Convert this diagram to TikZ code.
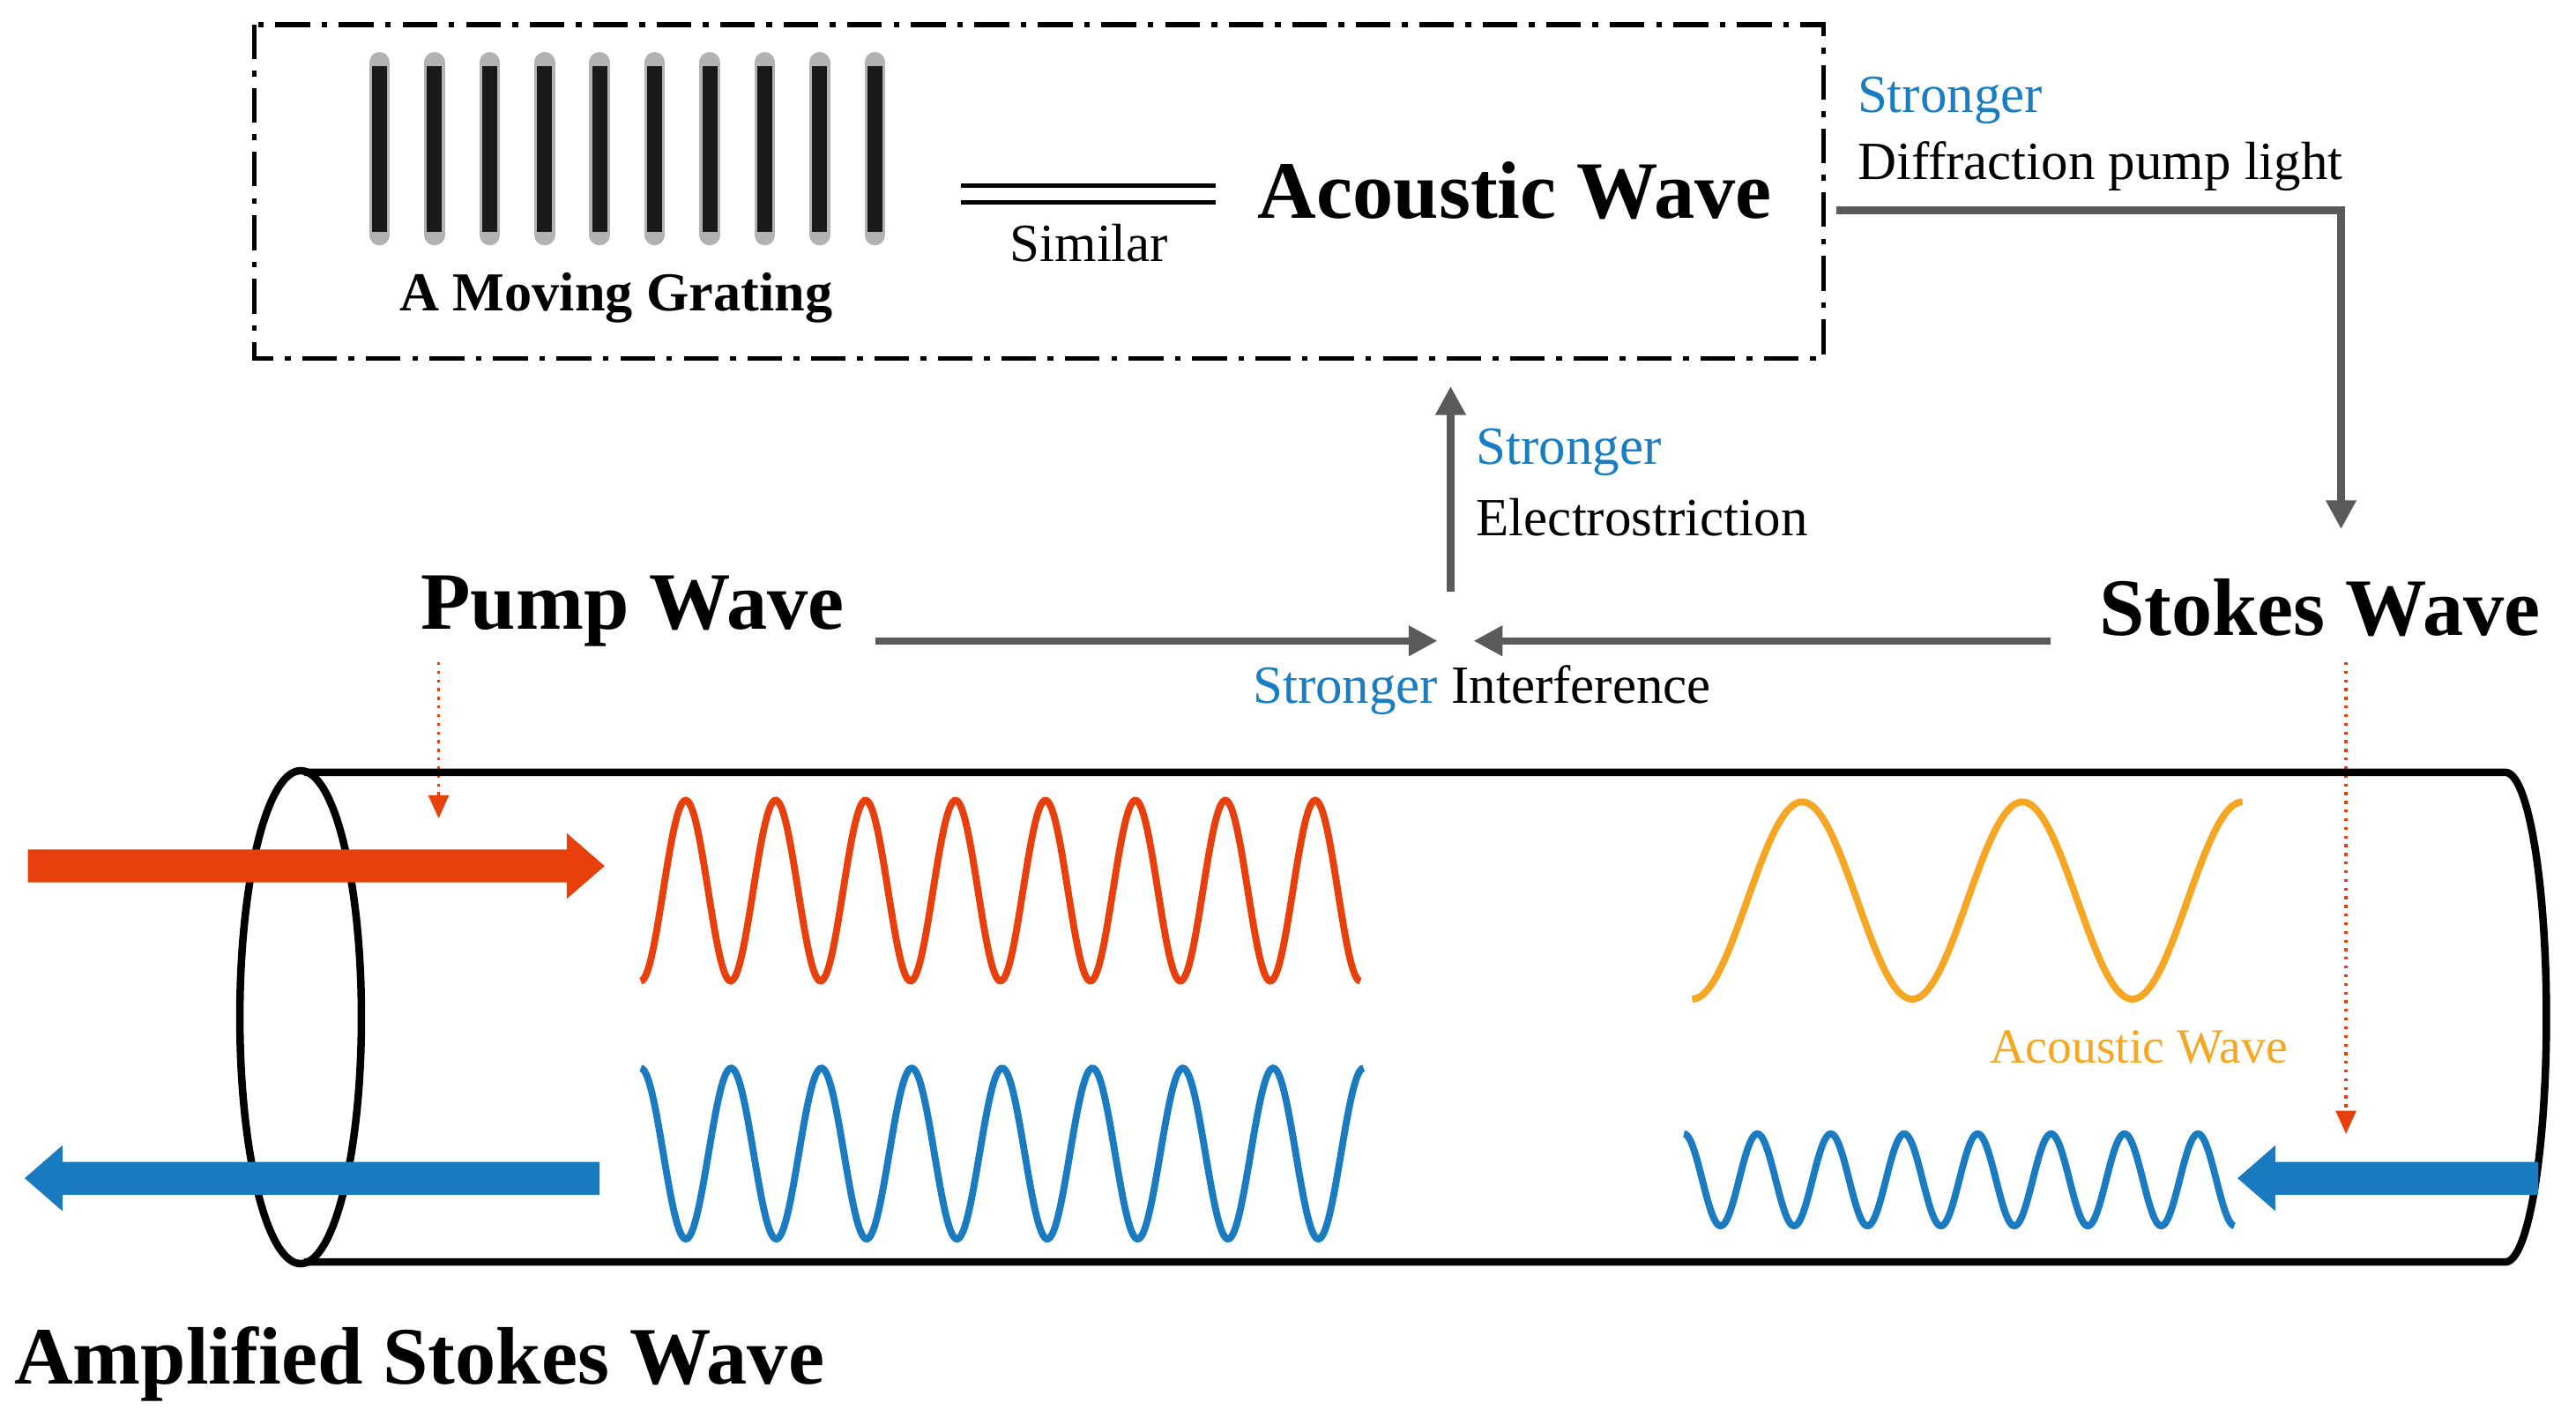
\documentclass[tikz,border=0pt]{standalone}
\usepackage{fontspec}
\setmainfont{Liberation Serif}
\usetikzlibrary{arrows.meta}
\definecolor{gr}{HTML}{5A5A5A}
\definecolor{rd}{HTML}{E8400C}
\definecolor{bl}{HTML}{1B7BC0}
\definecolor{org}{HTML}{F5A623}
\definecolor{stb}{HTML}{1A7CC1}
\begin{document}
\begin{tikzpicture}[x=0.01cm,y=-0.01cm,
  big/.style={font=\fontsize{14.1}{16}\selectfont\bfseries},
  sm/.style={font=\fontsize{9.3}{10}\selectfont,anchor=west,inner sep=0},
  garrow/.style={gr,line width=1.3pt,-{Triangle[length=5pt,width=5pt]}},
  dotar/.style={rd,densely dotted,line width=0.5pt,-{Triangle[length=4pt,width=3.5pt]}}]
\useasboundingbox (0,0) rectangle (1568,867);
% top box
\draw[line width=0.8pt,dash pattern=on 6pt off 2pt on 1pt off 2pt] (155,15) rectangle (1110,218);
\foreach \i in {0,...,9} {
  \draw[line width=3.6pt,black!30,line cap=round] ({231+\i*33.5},38) -- ({231+\i*33.5},143);
  \draw[line width=2.6pt,black!90] ({231+\i*33.5},40) -- ({231+\i*33.5},141);}
\node[font=\fontsize{9.5}{10}\selectfont\bfseries] (mg) at (375,181) {A Moving Grating};
\draw[line width=0.8pt] (585,113) -- (740,113) (585,123) -- (740,123);
\node[font=\fontsize{9.3}{10}\selectfont] (sim) at (663,148) {Similar};
\node[big] (aw) at (922,116) {Acoustic Wave};
\node[sm,text=stb] (s1) at (1130,61) {Stronger};
\node[sm] (d1) at (1130,101) {Diffraction pump light};
\coordinate (c1) at (1118,128);
\coordinate (c2) at (1425,322);
\draw[garrow] (c1) -| (c2);
% middle
\node[big] (pw) at (385,372) {Pump Wave};
\node[big] (sw) at (1412,370) {Stokes Wave};
\coordinate (u1) at (883,360); \coordinate (u2) at (883,235);
\draw[garrow] (u1) -- (u2);
\node[sm,text=stb] (s2) at (898,275) {Stronger};
\node[sm] (el) at (898,315) {Electrostriction};
\coordinate (m1) at (875,390); \coordinate (m2) at (897,390);
\draw[garrow] (533,390) -- (m1);
\draw[garrow] (1248,390) -- (m2);
\node[font=\fontsize{9.3}{10}\selectfont] (int) at (902,420) {\textcolor{stb}{Stronger} Interference};
\draw[dotar] (267,403) -- (267,498);
\draw[dotar] (1428,403) -- (1428,690);
% cylinder
\draw[line width=1.3pt] (185,470) -- (1525,470) arc[start angle=-90,end angle=90,x radius=25,y radius=149] -- (185,768);
\draw[line width=1.3pt] (183,619) ellipse[x radius=37,y radius=150];
% arrows
\fill[rd] (17,517) -- (345,517) -- (345,507) -- (368,527) -- (345,547) -- (345,537) -- (17,537) -- cycle;
\fill[bl] (365,707) -- (38,707) -- (38,697) -- (15,717) -- (38,737) -- (38,727) -- (365,727) -- cycle;
\fill[bl] (1545,707) -- (1385,707) -- (1385,697) -- (1362,717) -- (1385,737) -- (1385,727) -- (1545,727) -- cycle;
% waves
\draw[rd,line width=1.2pt] plot[domain=390:828,samples=400] (\x,{542+55*cos((\x-390)/54.75*360)});
\draw[bl,line width=1.2pt] plot[domain=390:830,samples=400] (\x,{702-52*cos((\x-390)/55*360)});
\draw[org,line width=1.2pt] plot[domain=1030:1365,samples=300] (\x,{548+60*cos((\x-1030)/134*360)});
\draw[bl,line width=1.2pt] plot[domain=1025:1360,samples=400] (\x,{718-28*cos((\x-1025)/44.7*360)});
\node[font=\fontsize{8.5}{10}\selectfont,text=org] (aw2) at (1302,637) {Acoustic Wave};
\node[big,anchor=west,inner sep=0] (asw) at (8,830) {Amplified Stokes Wave};
\end{tikzpicture}
\end{document}
